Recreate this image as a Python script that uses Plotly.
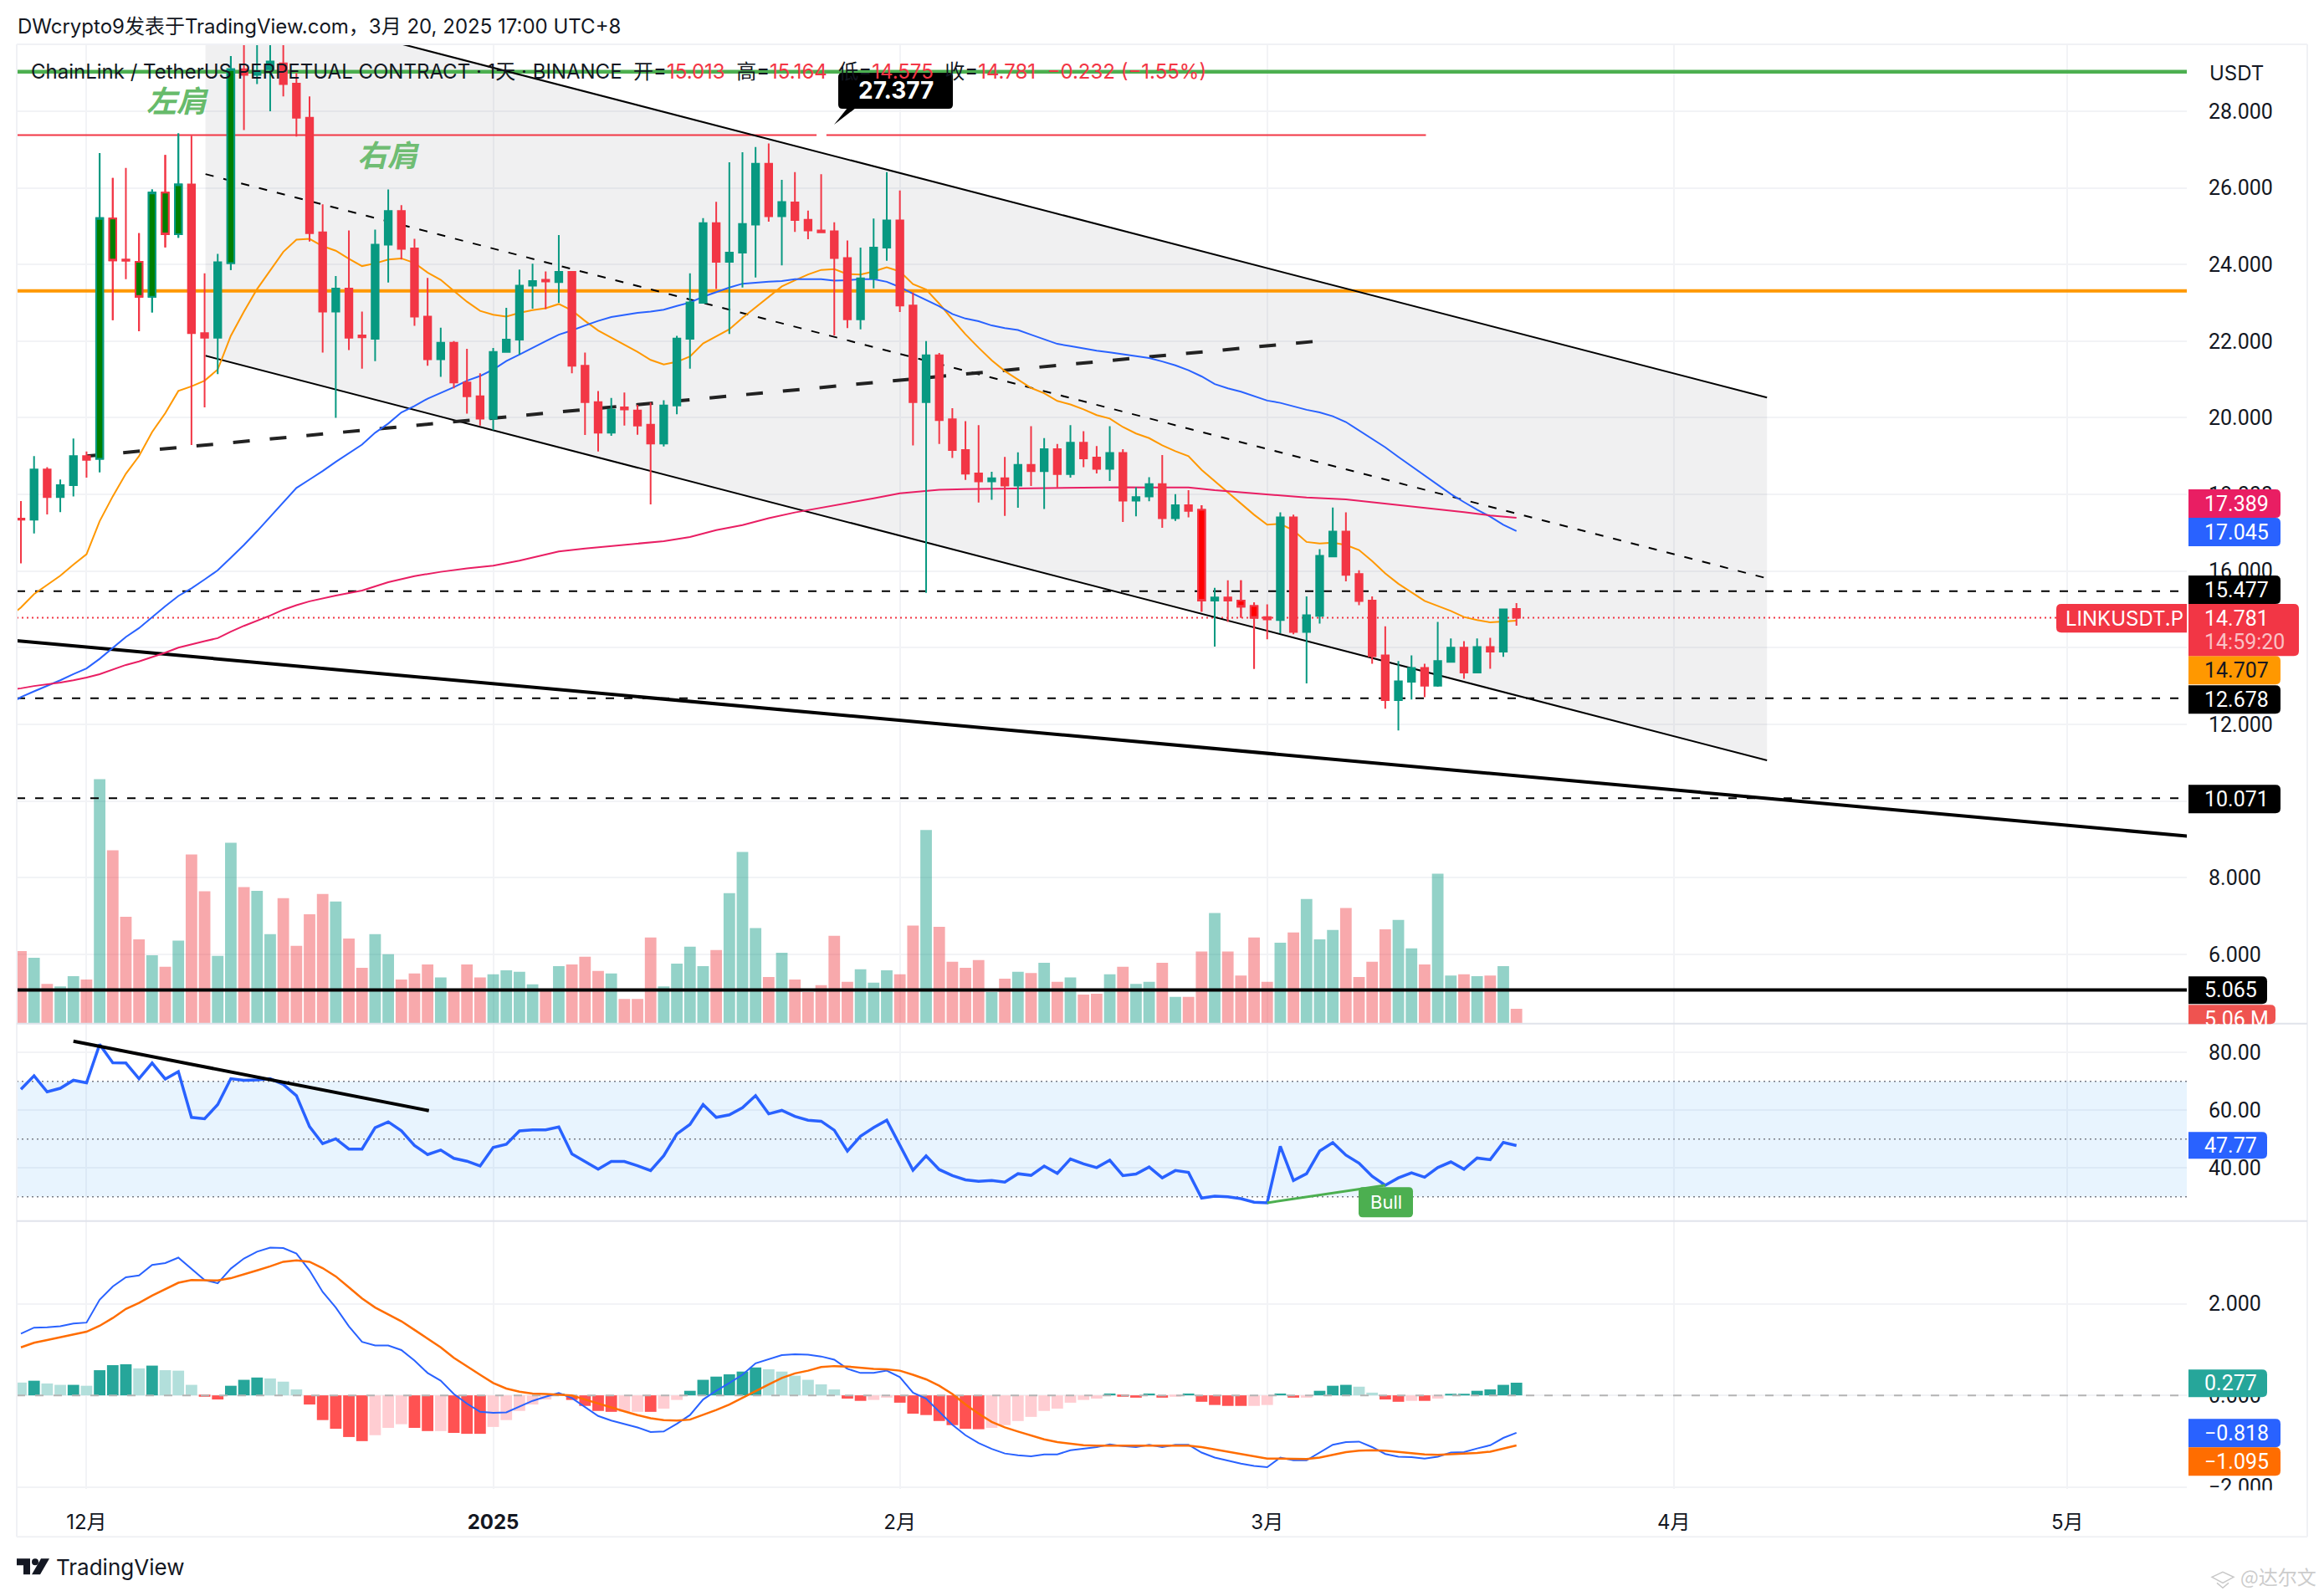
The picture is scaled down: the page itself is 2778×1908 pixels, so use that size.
import pandas as pd
import plotly.graph_objects as go
from plotly.subplots import make_subplots

# --- values ---
start_day = pd.Timestamp("2024-11-26")

opens = [17.37, 17.34, 18.65, 17.93, 18.24, 19.0, 18.93, 25.2, 24.13, 24.07, 23.16, 25.88, 24.79, 26.09, 22.21, 22.09,
         24.04, 29.1, 28.95, 29.1, 29.25, 28.72, 27.83, 24.84, 22.77, 23.37, 22.15, 22.06, 24.52, 25.4, 24.42, 22.64,
         21.53, 21.96, 20.92, 20.56, 19.98, 21.72, 22.04, 23.45, 23.6, 23.54, 23.81, 21.36, 20.41, 19.61, 20.27, 20.19,
         19.82, 19.33, 20.32, 22.06, 23.0, 25.08, 24.07, 24.31, 25.04, 26.63, 25.26, 25.62, 25.17, 24.89, 24.87, 24.17,
         22.57, 23.64, 24.44, 25.15, 22.93, 20.41, 21.63, 19.96, 19.16, 18.55, 18.34, 18.42, 18.23, 18.77, 18.61, 19.18,
         18.53, 19.35, 18.96, 18.67, 19.08, 17.84, 17.95, 18.27, 17.38, 17.72, 17.6, 15.23, 15.31, 15.23, 15.09, 14.8,
         14.72, 17.4, 14.41, 14.83, 16.38, 17.03, 15.92, 15.23, 13.8, 12.63, 13.11, 13.47, 13.01, 13.63, 14.0, 13.35,
         14.02, 13.9, 15.013]
highs = [17.83, 19.0, 18.71, 18.39, 19.46, 19.12, 26.91, 26.26, 26.52, 24.82, 25.96, 26.86, 27.42, 27.36, 23.77, 24.28,
         29.44, 30.5, 30.3, 30.0, 30.2, 29.0, 28.39, 25.57, 23.7, 24.89, 22.77, 24.91, 25.96, 25.55, 24.67, 23.65,
         22.35, 22.0, 21.8, 21.16, 21.82, 22.87, 23.87, 24.02, 23.82, 24.77, 23.81, 21.7, 20.7, 20.52, 20.66, 20.34,
         20.4, 20.46, 22.14, 23.77, 25.21, 25.64, 26.67, 26.93, 27.07, 27.16, 26.21, 26.41, 25.41, 26.36, 25.1, 24.63,
         24.44, 25.2, 26.41, 25.93, 23.27, 22.0, 21.69, 20.25, 19.91, 19.81, 18.59, 18.98, 19.1, 19.78, 19.47, 19.32,
         19.81, 19.65, 19.26, 19.78, 19.18, 18.19, 18.45, 19.03, 18.01, 18.11, 17.72, 15.56, 15.76, 15.76, 15.18, 15.13,
         17.53, 17.47, 15.34, 16.57, 17.66, 17.53, 16.02, 15.34, 14.56, 13.65, 13.8, 13.58, 14.67, 14.24, 14.17, 14.24,
         14.26, 15.02, 15.164]
lows = [16.2, 16.98, 17.48, 17.54, 17.95, 18.44, 18.58, 22.55, 23.62, 22.26, 22.75, 24.45, 24.7, 19.29, 20.27, 21.14,
        23.86, 27.51, 28.71, 28.0, 28.39, 27.34, 24.6, 21.7, 20.0, 21.77, 21.28, 21.48, 23.53, 24.13, 22.4, 21.36,
        21.07, 20.77, 20.11, 19.8, 19.68, 21.72, 21.65, 22.85, 22.84, 23.0, 21.16, 19.55, 19.12, 19.53, 19.8, 19.56,
        17.74, 19.25, 20.09, 21.28, 22.98, 23.36, 22.19, 23.4, 23.66, 25.12, 23.98, 24.85, 24.66, 24.82, 22.15, 22.34,
        22.31, 23.38, 24.1, 22.76, 19.28, 15.43, 19.32, 18.95, 18.38, 17.79, 17.86, 17.44, 17.65, 18.22, 17.62, 18.18,
        18.44, 18.71, 18.55, 18.35, 17.28, 17.43, 17.82, 17.13, 17.31, 17.4, 14.94, 14.03, 14.67, 14.78, 13.45, 14.22,
        14.38, 14.35, 13.07, 14.63, 16.36, 15.73, 15.11, 13.58, 12.41, 11.84, 12.65, 12.71, 12.98, 13.61, 13.19, 13.33,
        13.45, 13.76, 14.575]
closes = [17.34, 18.65, 17.93, 18.24, 19.0, 18.9, 25.21, 24.11, 24.1, 23.16, 25.88, 24.79, 26.09, 22.21, 22.09, 24.06,
          29.1, 28.95, 29.05, 29.3, 28.71, 27.83, 24.82, 22.77, 23.37, 22.09, 22.1, 24.52, 25.4, 24.41, 22.64, 21.53,
          21.96, 20.92, 20.56, 19.98, 21.72, 22.04, 23.45, 23.57, 23.56, 23.81, 21.36, 20.41, 19.61, 20.21, 20.22, 19.8,
          19.33, 20.32, 22.07, 23.01, 25.08, 24.07, 24.31, 25.06, 26.63, 25.26, 25.63, 25.16, 24.89, 24.84, 24.17, 22.57,
          23.64, 24.44, 25.15, 22.93, 20.41, 21.63, 19.94, 19.16, 18.54, 18.34, 18.42, 18.23, 18.77, 18.61, 19.18, 18.53,
          19.35, 18.94, 18.67, 19.08, 17.84, 17.93, 18.27, 17.38, 17.72, 17.57, 15.23, 15.31, 15.23, 15.07, 14.78, 14.74,
          17.4, 14.41, 14.85, 16.4, 17.03, 15.9, 15.22, 13.78, 12.63, 13.12, 13.47, 13.01, 13.65, 14.0, 13.35, 14.02,
          13.9, 15.0, 14.781]

# candles with a different body fill
green_filled = [6, 7, 9, 10, 11, 12, 16]
red_filled = [90, 93, 94]

# moving averages start one day before the first visible candle
ma_fast = [14.78, 15.05, 15.4, 15.64, 15.88, 16.17, 16.44, 17.3, 17.95, 18.54, 19.0, 19.63, 20.12, 20.7, 20.82, 20.97, 21.26,
           22.14, 22.77, 23.36, 23.84, 24.33, 24.65, 24.67, 24.48, 24.36, 24.15, 23.96, 24.03, 24.13, 24.16, 24.04, 23.79,
           23.6, 23.31, 23.03, 22.79, 22.69, 22.64, 22.74, 22.81, 22.86, 22.97, 22.8, 22.53, 22.28, 22.09, 21.91, 21.72,
           21.51, 21.39, 21.46, 21.6, 21.94, 22.12, 22.31, 22.61, 22.88, 23.17, 23.43, 23.59, 23.74, 23.86, 23.88, 23.75,
           23.74, 23.82, 23.93, 23.82, 23.49, 23.35, 22.98, 22.57, 22.18, 21.83, 21.5, 21.22, 21.0, 20.78, 20.64, 20.44,
           20.35, 20.22, 20.07, 19.98, 19.76, 19.59, 19.47, 19.28, 19.13, 19.0, 18.64, 18.35, 18.06, 17.77, 17.47, 17.21,
           17.23, 17.06, 16.76, 16.72, 16.74, 16.68, 16.55, 16.26, 15.94, 15.67, 15.45, 15.22, 15.09, 14.96, 14.8, 14.72,
           14.66, 14.69, 14.707]
ma_mid = [12.5, 12.71, 12.86, 13.0, 13.15, 13.31, 13.46, 13.71, 14.0, 14.28, 14.51, 14.8, 15.08, 15.35, 15.55, 15.78, 16.02,
          16.35, 16.68, 17.04, 17.42, 17.81, 18.17, 18.39, 18.61, 18.85, 19.07, 19.3, 19.61, 19.85, 20.14, 20.31, 20.5,
          20.65, 20.8, 20.97, 21.09, 21.26, 21.48, 21.65, 21.83, 22.0, 22.17, 22.28, 22.41, 22.53, 22.63, 22.69, 22.74,
          22.77, 22.82, 22.92, 23.01, 23.16, 23.28, 23.4, 23.5, 23.53, 23.55, 23.57, 23.62, 23.62, 23.62, 23.58, 23.59,
          23.62, 23.62, 23.55, 23.41, 23.24, 23.07, 22.91, 22.71, 22.59, 22.52, 22.41, 22.34, 22.29, 22.17, 22.05, 21.93,
          21.87, 21.81, 21.75, 21.71, 21.66, 21.62, 21.56, 21.47, 21.37, 21.24, 21.08, 20.88, 20.77, 20.68, 20.57, 20.45,
          20.39, 20.3, 20.21, 20.14, 20.04, 19.89, 19.67, 19.45, 19.23, 18.98, 18.74, 18.5, 18.25, 18.01, 17.8, 17.6,
          17.42, 17.21, 17.045]
ma_slow_idx = [-1, 0, 1, 2, 3, 4, 5, 6, 7, 8, 9, 10, 11, 12, 13, 14, 15, 16, 17, 18, 19, 20, 21, 22, 24, 26, 28, 30, 32, 34,
               36, 38, 40, 41, 43, 45, 47, 49, 51, 53, 55, 57, 59, 61, 63, 65, 67, 68, 70, 72, 75, 77, 79, 81, 84, 86, 89,
               91, 93, 95, 98, 101, 104, 107, 110, 112, 114]
ma_slow = [12.9, 12.94, 13.0, 13.04, 13.09, 13.15, 13.22, 13.31, 13.43, 13.55, 13.64, 13.75, 13.87, 14.0, 14.09, 14.17,
           14.25, 14.42, 14.57, 14.7, 14.84, 14.99, 15.11, 15.21, 15.36, 15.49, 15.71, 15.87, 15.98, 16.07, 16.14, 16.27,
           16.43, 16.51, 16.59, 16.65, 16.71, 16.78, 16.89, 17.07, 17.2, 17.38, 17.53, 17.65, 17.77, 17.9, 18.03, 18.06,
           18.12, 18.14, 18.15, 18.17, 18.17, 18.18, 18.19, 18.18, 18.18, 18.11, 18.06, 18.0, 17.92, 17.87, 17.76, 17.65,
           17.54, 17.45, 17.389]

volume = [25.3, 22.9, 13.8, 12.9, 16.5, 15.3, 85.5, 60.6, 37.3, 29.4, 23.8, 19.8, 28.9, 59.1, 46.2, 23.6, 63.2, 47.7, 46.4,
          31.2, 43.8, 27.1, 38.2, 45.3, 42.6, 29.7, 19.4, 31.2, 24.2, 15.3, 17.4, 20.6, 16.0, 11.7, 20.6, 16.0, 17.1, 18.5,
          18.0, 13.6, 11.5, 20.0, 20.6, 23.3, 18.3, 17.4, 8.5, 8.5, 30.0, 12.9, 20.9, 26.8, 20.0, 25.6, 45.6, 60.0, 33.3,
          16.2, 24.7, 15.3, 10.9, 13.3, 30.6, 14.5, 18.9, 14.2, 18.5, 17.1, 34.2, 67.7, 33.8, 21.5, 19.4, 22.1, 10.9, 15.6,
          18.0, 17.6, 21.2, 14.5, 16.0, 10.0, 10.3, 17.1, 19.8, 13.8, 14.5, 21.2, 9.2, 9.2, 25.1, 38.6, 25.1, 16.7, 30.0,
          14.5, 28.2, 31.8, 43.5, 29.4, 32.7, 40.4, 16.2, 21.5, 32.9, 36.2, 26.2, 20.6, 52.4, 16.7, 17.1, 16.5, 16.7, 20.0,
          5.06]

rsi = [67.26, 71.91, 66.37, 67.59, 70.36, 69.47, 82.77, 76.45, 76.34, 70.91, 76.34, 70.8, 73.35, 57.51, 57.06, 61.94, 70.91,
       70.36, 70.47, 70.91, 68.92, 65.04, 54.29, 48.42, 50.08, 46.54, 46.54, 53.96, 55.96, 52.85, 47.76, 44.65, 46.2, 43.32,
       42.33, 40.66, 47.09, 48.2, 52.85, 53.19, 53.19, 54.18, 44.88, 42.1, 39.56, 42.22, 42.22, 40.78, 39.11, 44.21, 51.75,
       55.07, 61.94, 57.51, 58.39, 60.83, 65.04, 58.73, 59.94, 57.84, 56.51, 56.18, 53.07, 45.87, 50.97, 53.96, 56.51, 47.87,
       39.22, 44.21, 39.45, 37.34, 35.9, 35.35, 35.68, 35.12, 38.0, 37.45, 40.66, 38.12, 43.1, 41.44, 40.11, 42.66, 37.34,
       37.9, 40.33, 36.57, 39.11, 38.45, 29.58, 30.25, 30.03, 29.36, 28.14, 27.92, 47.53, 35.68, 38.0, 45.87, 48.75, 44.43,
       41.66, 37.12, 34.02, 36.57, 38.34, 36.79, 40.11, 42.1, 39.56, 43.44, 42.88, 48.86, 47.77]

macd = [1.35, 1.48, 1.49, 1.51, 1.57, 1.59, 2.09, 2.38, 2.58, 2.62, 2.85, 2.89, 3.01, 2.77, 2.52, 2.45, 2.77, 2.99, 3.14, 3.23,
        3.22, 3.1, 2.73, 2.26, 1.92, 1.51, 1.17, 1.09, 1.09, 0.99, 0.76, 0.49, 0.32, 0.03, -0.18, -0.36, -0.38, -0.37, -0.24,
        -0.12, -0.03, 0.05, -0.06, -0.26, -0.45, -0.55, -0.62, -0.7, -0.8, -0.79, -0.62, -0.43, -0.09, 0.1, 0.27, 0.45, 0.7,
        0.79, 0.88, 0.9, 0.89, 0.85, 0.78, 0.58, 0.49, 0.49, 0.54, 0.4, 0.06, -0.07, -0.35, -0.64, -0.87, -1.04, -1.17, -1.27,
        -1.31, -1.33, -1.29, -1.29, -1.2, -1.16, -1.13, -1.07, -1.11, -1.13, -1.08, -1.13, -1.08, -1.08, -1.25, -1.36, -1.43,
        -1.49, -1.54, -1.57, -1.36, -1.42, -1.42, -1.25, -1.08, -1.02, -1.01, -1.13, -1.28, -1.34, -1.35, -1.38, -1.34, -1.25,
        -1.24, -1.16, -1.09, -0.93, -0.818]
signal = [1.05, 1.15, 1.21, 1.27, 1.34, 1.39, 1.52, 1.69, 1.89, 2.02, 2.18, 2.32, 2.46, 2.52, 2.52, 2.51, 2.56, 2.64, 2.73, 2.82,
          2.92, 2.95, 2.92, 2.78, 2.6, 2.36, 2.12, 1.92, 1.77, 1.62, 1.43, 1.24, 1.05, 0.82, 0.63, 0.45, 0.27, 0.15, 0.08, 0.04,
          0.03, 0.02, 0.0, -0.09, -0.18, -0.27, -0.35, -0.43, -0.5, -0.54, -0.55, -0.53, -0.43, -0.32, -0.2, -0.06, 0.09, 0.24,
          0.38, 0.48, 0.54, 0.62, 0.64, 0.63, 0.6, 0.58, 0.57, 0.54, 0.45, 0.35, 0.21, 0.03, -0.2, -0.4, -0.58, -0.7, -0.79,
          -0.88, -0.96, -1.02, -1.06, -1.09, -1.1, -1.1, -1.1, -1.1, -1.1, -1.1, -1.1, -1.1, -1.13, -1.18, -1.22, -1.27, -1.33,
          -1.38, -1.38, -1.39, -1.39, -1.36, -1.3, -1.24, -1.21, -1.2, -1.21, -1.24, -1.26, -1.29, -1.3, -1.29, -1.28, -1.26,
          -1.23, -1.16, -1.095]
hist = [0.28, 0.32, 0.26, 0.23, 0.23, 0.21, 0.55, 0.66, 0.68, 0.59, 0.65, 0.55, 0.54, 0.23, -0.03, -0.09, 0.21, 0.34, 0.39, 0.37,
        0.3, 0.13, -0.2, -0.54, -0.73, -0.91, -1.0, -0.87, -0.71, -0.63, -0.71, -0.78, -0.78, -0.82, -0.84, -0.84, -0.69, -0.54,
        -0.34, -0.2, -0.09, 0.04, -0.1, -0.23, -0.34, -0.36, -0.36, -0.36, -0.36, -0.29, -0.1, 0.1, 0.34, 0.41, 0.46, 0.52, 0.61,
        0.57, 0.52, 0.43, 0.34, 0.24, 0.13, -0.07, -0.12, -0.1, -0.05, -0.16, -0.4, -0.43, -0.56, -0.65, -0.73, -0.74, -0.71,
        -0.65, -0.56, -0.47, -0.34, -0.29, -0.16, -0.1, -0.07, 0.04, -0.03, -0.05, 0.04, -0.05, -0.03, 0.04, -0.14, -0.21, -0.23,
        -0.23, -0.23, -0.21, 0.04, -0.05, -0.05, 0.1, 0.21, 0.23, 0.19, 0.06, -0.09, -0.14, -0.12, -0.12, -0.07, 0.02, 0.02, 0.1,
        0.13, 0.23, 0.277]
hist_shade = ("LDLLDLDDDL" "DLLLDDDDDL" "LLDDDDDLLL" "DDLDDDLLLL" "LDDDDDLLDL" "LDDDDDDLLL"
              "LLLDDLLDDD" "DDDDLLLLLL" "LLLDDDDDLD" "DDDDLLDDLD" "DDLLDDLDLD" "DDDDD")

# drawn levels and trend lines (price, and day counted from the first candle)
level_green = 29.03
level_red = 27.377
level_orange = 23.31
level_dashed = [15.477, 12.678, 10.071]
level_black = 5.065
level_last = 14.781
red_line_days = [[-1, 60.65], [61.4, 107.1]]
channel_days = [14.07, 133.1]
channel_upper = [31.08, 20.53]
channel_mid = [26.36, 15.81]
channel_lower = [21.62, 11.06]
support_days = [-1, 165.2]
support_vals = [14.2, 9.08]
neck_days = [5.0, 98.5]
neck_vals = [19.0, 21.99]
rsi_trend_days = [4.0, 31.1]
rsi_trend_vals = [83.88, 59.83]
rsi_bull_days = [95, 104]
rsi_bull_vals = [27.92, 34.02]

price_ticks = [28, 26, 24, 22, 20, 18, 16, 14, 12, 10, 8, 6]
rsi_ticks = [80, 60, 40]
macd_ticks = [2, 0, -2]
month_ticks = ["2024-12-01", "2025-01-01", "2025-02-01", "2025-03-01", "2025-04-01", "2025-05-01"]
month_labels = ["12月", "<b>2025</b>", "2月", "3月", "4月", "5月"]

W, H = 2778, 1908
Y_STRETCH = 1.0065  # photographed page came out slightly short
UP, DOWN = "#089981", "#f23645"
FONT = "Inter, 'Noto Sans CJK SC', sans-serif"
NUM_FONT = "Roboto, 'Noto Sans CJK SC', sans-serif"
INK = "#131722"
ONE_DAY = 86400000


def day(i):
    return start_day + pd.Timedelta(days=i)


def fx(px):
    return px / W


def fy(px):
    return 1 - px * Y_STRETCH / H


days = [day(i) for i in range(len(opens))]
x_left, x_right = day(-0.32), day(165.1)
ma_days = [day(i - 1) for i in range(len(ma_fast))]

fig = make_subplots(rows=3, cols=1, shared_xaxes=True, vertical_spacing=0,
                    specs=[[{"secondary_y": True}], [{}], [{}]])

# volume sits on the primary axis of row 1, prices on the overlaying one
vol_colors = ["rgba(8,153,129,0.44)" if c >= o else "rgba(239,64,70,0.45)" for o, c in zip(opens, closes)]
fig.add_trace(go.Bar(x=days, y=volume, width=0.88 * ONE_DAY, marker_color=vol_colors, marker_line_width=0,
                     showlegend=False, hoverinfo="skip"), row=1, col=1, secondary_y=False)


def price_line(x, y, color, width, dash="solid", **kw):
    fig.add_trace(go.Scatter(x=x, y=y, mode="lines", line=dict(color=color, width=width, dash=dash),
                             showlegend=False, hoverinfo="skip", **kw), row=1, col=1, secondary_y=True)


# channel background
ch_x = [day(channel_days[0]), day(channel_days[1]), day(channel_days[1]), day(channel_days[0])]
ch_y = [channel_upper[0], channel_upper[1], channel_lower[1], channel_lower[0]]
fig.add_trace(go.Scatter(x=ch_x, y=ch_y, mode="none", fill="toself", fillcolor="rgba(120,123,134,0.115)",
                         showlegend=False, hoverinfo="skip"), row=1, col=1, secondary_y=True)

for a, b in red_line_days:
    price_line([day(a), day(b)], [level_red, level_red], DOWN, 2)
price_line([x_left, x_right], [level_green, level_green], "#4caf50", 4.5)
price_line([x_left, x_right], [level_orange, level_orange], "#ff9800", 4)
for lvl in level_dashed:
    price_line([x_left, x_right], [lvl, lvl], "#000000", 2, "10px,12px")
price_line([x_left, x_right], [level_black, level_black], "#000000", 4)
price_line([x_left, x_right], [level_last, level_last], DOWN, 2, "2px,4px")
ch_days = [day(d) for d in channel_days]
price_line(ch_days, channel_upper, "#000000", 2)
price_line(ch_days, channel_lower, "#000000", 2)
price_line(ch_days, channel_mid, "#000000", 2, "10px,12px")
price_line([day(d) for d in support_days], support_vals, "#000000", 4)
price_line([day(d) for d in neck_days], neck_vals, "#222222", 4, "20px,24px")

price_line(ma_days, ma_fast, "#ff9800", 2)
price_line(ma_days, ma_mid, "#2962ff", 2)
price_line([day(i) for i in ma_slow_idx], ma_slow, "#e91e63", 2)


def candles(idx, up_fill, down_fill):
    fig.add_trace(go.Candlestick(
        x=[days[i] for i in idx], open=[opens[i] for i in idx], high=[highs[i] for i in idx],
        low=[lows[i] for i in idx], close=[closes[i] for i in idx], whiskerwidth=0,
        increasing=dict(line=dict(color=UP, width=2), fillcolor=up_fill),
        decreasing=dict(line=dict(color=DOWN, width=2), fillcolor=down_fill),
        showlegend=False, hoverinfo="skip", xaxis="x", yaxis="y5"))


candles(list(range(len(opens))), UP, DOWN)
candles(green_filled, "#008000", "#008000")
candles(red_filled, UP, "#ff0000")

# RSI pane
fig.add_trace(go.Scatter(x=[x_left, x_right, x_right, x_left], y=[70, 70, 30, 30], mode="none", fill="toself",
                         fillcolor="rgba(33,150,243,0.1)", showlegend=False, hoverinfo="skip"), row=2, col=1)
for lvl in [70, 50, 30]:
    fig.add_trace(go.Scatter(x=[x_left, x_right], y=[lvl, lvl], mode="lines",
                             line=dict(color="#787b86", width=1.5, dash="2px,4px"),
                             showlegend=False, hoverinfo="skip"), row=2, col=1)
fig.add_trace(go.Scatter(x=days, y=rsi, mode="lines", line=dict(color="#2962ff", width=3.5),
                         showlegend=False, hoverinfo="skip"), row=2, col=1)
fig.add_trace(go.Scatter(x=[day(d) for d in rsi_trend_days], y=rsi_trend_vals, mode="lines",
                         line=dict(color="#000000", width=4), showlegend=False, hoverinfo="skip"), row=2, col=1)
fig.add_trace(go.Scatter(x=[day(d) for d in rsi_bull_days], y=rsi_bull_vals, mode="lines",
                         line=dict(color="#4caf50", width=3), showlegend=False, hoverinfo="skip"), row=2, col=1)

# MACD pane
shades = {("D", True): "#26a69a", ("L", True): "#b2dfdb", ("D", False): "#ff5252", ("L", False): "#ffcdd2"}
hist_colors = [shades[(s, v >= 0)] for s, v in zip(hist_shade, hist)]
fig.add_trace(go.Scatter(x=[x_left, x_right], y=[0, 0], mode="lines",
                         line=dict(color="#b4b4b4", width=2, dash="10px,12px"),
                         showlegend=False, hoverinfo="skip"), row=3, col=1)
fig.add_trace(go.Bar(x=days, y=hist, width=0.88 * ONE_DAY, marker_color=hist_colors, marker_line_width=0,
                     showlegend=False, hoverinfo="skip"), row=3, col=1)
fig.add_trace(go.Scatter(x=days, y=macd, mode="lines", line=dict(color="#2962ff", width=2),
                         showlegend=False, hoverinfo="skip"), row=3, col=1)
fig.add_trace(go.Scatter(x=days, y=signal, mode="lines", line=dict(color="#ff6d00", width=2.5),
                         showlegend=False, hoverinfo="skip"), row=3, col=1)

GRID = "#f2f3f6"
tick_font = dict(family=NUM_FONT, size=25, color=INK)
fig.update_xaxes(range=[x_left, x_right], type="date", tickmode="array", tickvals=month_ticks, ticktext=month_labels,
                 showgrid=True, gridcolor=GRID, gridwidth=2, zeroline=False, showline=False,
                 rangeslider_visible=False, tickfont=dict(family=FONT, size=24, color=INK), ticks="", ticklen=0)
fig.update_xaxes(ticks="outside", ticklen=18, tickcolor="rgba(0,0,0,0)", row=3, col=1)

y_common = dict(side="right", showgrid=True, gridcolor=GRID, gridwidth=2, zeroline=False, showline=False,
                tickmode="array", ticks="outside", ticklen=20, tickcolor="rgba(0,0,0,0)", tickfont=tick_font)
row1_dom = [fy(1223), fy(53)]
price_range = [4.2, 29.747]
fig.update_layout(
    width=W, height=H, margin=dict(l=0, r=0, t=0, b=0), plot_bgcolor="white", paper_bgcolor="white",
    barmode="overlay", boxmode="overlay", boxgap=0.24, showlegend=False, hovermode=False,
    font=dict(family=FONT, color=INK),
    xaxis=dict(domain=[fx(20), fx(2614)]),
    xaxis2=dict(domain=[fx(20), fx(2614)]),
    xaxis3=dict(domain=[fx(20), fx(2614)]),
    yaxis=dict(domain=row1_dom, range=[0, 343], visible=False, showgrid=False),
    yaxis2=dict(y_common, domain=row1_dom, range=price_range, tickvals=price_ticks,
                ticktext=[f"{t:.3f}" for t in price_ticks], overlaying="y"),
    yaxis3=dict(y_common, domain=[fy(1459), fy(1224)], range=[21.76, 89.84], tickvals=rsi_ticks,
                ticktext=[f"{t:.2f}" for t in rsi_ticks]),
    yaxis4=dict(y_common, domain=[fy(1780), fy(1460)], range=[-2.05, 3.8], tickvals=macd_ticks,
                ticktext=[f"{t:.3f}".replace("-", "−") for t in macd_ticks]),
    yaxis5=dict(domain=row1_dom, range=price_range, overlaying="y", side="right", visible=False),
)

shapes = []
notes = []


def rect_path(x0, y0, x1, y1, r_left=0, r_right=6):
    a, b = fx(x0), fx(x1)
    t, u = fy(y0), fy(y1)
    rx_l, ry_l = r_left / W, r_left / H
    rx_r, ry_r = r_right / W, r_right / H
    return (f"M {a + rx_l} {t} L {b - rx_r} {t} Q {b} {t} {b} {t - ry_r} L {b} {u + ry_r} Q {b} {u} {b - rx_r} {u} "
            f"L {a + rx_l} {u} Q {a} {u} {a} {u + ry_l} L {a} {t - ry_l} Q {a} {t} {a + rx_l} {t} Z")


def box(x0, y0, x1, y1, color, r_left=0, r_right=6):
    shapes.append(dict(type="path", xref="paper", yref="paper", path=rect_path(x0, y0, x1, y1, r_left, r_right),
                       fillcolor=color, line=dict(width=0)))


def text(px, py, s, size=24, color=INK, anchor="left", family=FONT, **kw):
    notes.append(dict(xref="paper", yref="paper", x=fx(px), y=fy(py), text=s, showarrow=False, xanchor=anchor,
                      yanchor="middle", borderpad=0, font=dict(family=family, size=size, color=color), **kw))


def hline(y, x0, x1, color, width=2):
    shapes.append(dict(type="line", xref="paper", yref="paper", x0=fx(x0), x1=fx(x1), y0=fy(y), y1=fy(y),
                       line=dict(color=color, width=width)))


def vline(x, y0, y1, color, width=2):
    shapes.append(dict(type="line", xref="paper", yref="paper", x0=fx(x), x1=fx(x), y0=fy(y0), y1=fy(y1),
                       line=dict(color=color, width=width)))


# frame and pane separators
hline(53, 20, 2758, "#f0f1f5")
hline(1837, 20, 2758, "#f0f1f5")
vline(20, 53, 1837, "#f0f1f5")
vline(2758, 53, 1837, "#f0f1f5")
hline(1223.5, 20, 2758, "#e0e3eb")
hline(1459.5, 20, 2758, "#e0e3eb")

# price tags on the right
TAG_X = 2616
tags = [
    (585, 619, 2726, "#e91e63", "17.389", "white"),
    (619, 653, 2726, "#2962ff", "17.045", "white"),
    (688, 722, 2726, "#000000", "15.477", "white"),
    (819, 853, 2726, "#000000", "12.678", "white"),
    (938, 972, 2726, "#000000", "10.071", "white"),
    (784, 818, 2726, "#ff9800", "14.707", "#131722"),
    (1167, 1200, 2710, "#000000", "5.065", "white"),
    (1353, 1385, 2710, "#2962ff", "47.77", "white"),
    (1637, 1670, 2710, "#26a69a", "0.277", "white"),
    (1696, 1730, 2726, "#2962ff", "−0.818", "white"),
    (1730, 1764, 2726, "#ff6d00", "−1.095", "white"),
]
for y0, y1, x1, color, label, ink in tags:
    box(TAG_X, y0, x1, y1, color)
    text(2634, (y0 + y1) / 2, label, size=25, color=ink, family=NUM_FONT)

box(TAG_X, 722, 2748, 784, DOWN)
text(2634, 739, "14.781", size=25, color="white", family=NUM_FONT)
text(2634, 767, "14:59:20", size=25, color="rgba(255,255,255,0.7)", family=NUM_FONT)
box(2458, 722, 2614, 756, DOWN, r_left=6, r_right=0)
text(2468, 739, "LINKUSDT.P", color="white")

# volume tag runs into the pane below, so its lower part is cut off
box(TAG_X, 1201, 2720, 1224, "#ef5350", r_right=6)
text(2634, 1218, "5.06 M", size=25, color="white", family=NUM_FONT)
notes.append(dict(xref="paper", yref="paper", x=fx(2615), y=fy(1225), text=" ", showarrow=False, xanchor="left",
                  yanchor="top", width=112, height=14, bgcolor="white", borderpad=0))
# same for the lowest MACD tick
notes.append(dict(xref="paper", yref="paper", x=fx(2615), y=fy(1781), text=" ", showarrow=False, xanchor="left",
                  yanchor="top", width=112, height=18, bgcolor="white", borderpad=0))

# top texts
text(20, 31, "DWcrypto9发表于TradingView.com，3月 20, 2025 17:00 UTC+8", size=24)
red = lambda s: f"<span style='color:{DOWN}'>{s}</span>"
sp = "\u00a0\u00a0"
legend = ("ChainLink / TetherUS PERPETUAL CONTRACT · 1天 · BINANCE" + sp
          + "开=" + red("15.013") + sp + "高=" + red("15.164") + sp + "低=" + red("14.575") + sp
          + "收=" + red("14.781") + sp + red("−0.232 (−1.55%)"))
text(36, 85, legend, size=24)
text(2640, 87, "USDT", size=24)

cjk = "'Noto Sans CJK SC', sans-serif"
text(213, 118, "<b><i>左肩</i></b>", size=36, color="rgba(76,175,80,0.85)", anchor="center", family=cjk)
text(464, 183, "<b><i>右肩</i></b>", size=36, color="rgba(76,175,80,0.8)", anchor="center", family=cjk)

# 27.377 callout
box(1002, 87, 1139, 130, "#000000", r_left=5, r_right=5)
shapes.append(dict(type="path", xref="paper", yref="paper", line=dict(width=0), fillcolor="#000000",
                   path=f"M {fx(1013)} {fy(129)} L {fx(1023)} {fy(129)} L {fx(997)} {fy(149)} Z"))
text(1070.5, 108, "<b>27.377</b>", size=28, color="white", anchor="center")

# Bull label
box(1624, 1419, 1689, 1455, "#4caf50", r_left=5, r_right=5)
text(1656.5, 1437, "Bull", size=22, color="white", anchor="center")

# TradingView logo
logo = "#131722"
shapes.append(dict(type="path", xref="paper", yref="paper", line=dict(width=0), fillcolor=logo,
                   path=(f"M {fx(20)} {fy(1863)} L {fx(36)} {fy(1863)} L {fx(36)} {fy(1882)} L {fx(28)} {fy(1882)} "
                         f"L {fx(28)} {fy(1871)} L {fx(20)} {fy(1871)} Z")))
shapes.append(dict(type="circle", xref="paper", yref="paper", line=dict(width=0), fillcolor=logo,
                   x0=fx(38), x1=fx(46), y0=fy(1871), y1=fy(1863)))
shapes.append(dict(type="path", xref="paper", yref="paper", line=dict(width=0), fillcolor=logo,
                   path=(f"M {fx(49)} {fy(1863)} L {fx(59)} {fy(1863)} L {fx(48)} {fy(1882)} L {fx(38)} {fy(1882)} Z")))
text(66, 1873, "TradingView", size=26, color=INK)

# watermark
shapes.append(dict(type="path", xref="paper", yref="paper", fillcolor="rgba(0,0,0,0)",
                   line=dict(color="#c8c8c8", width=1.5),
                   path=(f"M {fx(2644)} {fy(1885)} L {fx(2657)} {fy(1879)} L {fx(2670)} {fy(1885)} L {fx(2657)} {fy(1892)} Z "
                         f"M {fx(2650)} {fy(1892)} L {fx(2657)} {fy(1898)} L {fx(2664)} {fy(1892)}")))
text(2677, 1884, "@达尔文", size=23, color="#cccccc", family=cjk)

fig.update_layout(shapes=shapes, annotations=notes)

fig.write_html("out.html", config={"displayModeBar": False},
               post_script="document.body.style.margin='0';document.body.style.overflow='hidden';")
